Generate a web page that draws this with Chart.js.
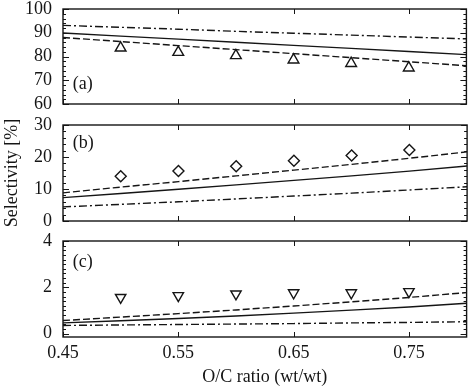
<!DOCTYPE html>
<html>
<head>
<meta charset="utf-8">
<script src="https://cdn.jsdelivr.net/npm/chart.js@4.4.0/dist/chart.umd.min.js"></script>
<style>
  html, body { margin: 0; padding: 0; background: #fff; }
  #wrap { position: relative; width: 474px; height: 390px; }
  #wrap canvas { position: absolute; left: 0; top: 0; }
</style>
</head>
<body>
<div id="wrap">
  <canvas id="chart-a" width="474" height="390"></canvas>
  <canvas id="chart-b" width="474" height="390"></canvas>
  <canvas id="chart-c" width="474" height="390"></canvas>
</div>
<script>
/* selectivity vs O/C ratio — three stacked panels */

// shared x
const X_LINE  = [0.45, 0.50, 0.55, 0.60, 0.65, 0.70, 0.75, 0.80];
const X_MEAS  = [0.50, 0.55, 0.60, 0.65, 0.70, 0.75];
const X_TICKS = [0.45, 0.55, 0.65, 0.75];

// panel (a)
const A_SOLID   = [89.9, 88.6, 87.3, 86.0, 84.7, 83.4, 82.1, 80.8];
const A_DASHED  = [88.0, 86.3, 84.6, 82.9, 81.2, 79.5, 77.8, 76.1];
const A_DASHDOT = [93.1, 92.3, 91.5, 90.6, 89.8, 89.0, 88.2, 87.4];
const A_MEAS    = [83.6, 81.8, 80.4, 78.6, 77.1, 75.2];
const A_TICKS   = [60, 70, 80, 90, 100];

// panel (b)
const B_SOLID   = [7.3, 8.6, 9.9, 11.3, 12.7, 14.1, 15.6, 17.2];
const B_DASHED  = [8.8, 10.6, 12.3, 14.1, 15.9, 17.7, 19.6, 21.6];
const B_DASHDOT = [4.4, 5.2, 6.0, 6.9, 7.8, 8.7, 9.7, 10.7];
const B_MEAS    = [14.0, 15.6, 17.1, 18.8, 20.5, 22.2];
const B_TICKS   = [0, 10, 20, 30];

// panel (c)
const C_SOLID   = [0.46, 0.55, 0.65, 0.76, 0.88, 1.01, 1.15, 1.31];
const C_DASHED  = [0.56, 0.71, 0.86, 1.02, 1.19, 1.37, 1.56, 1.77];
const C_DASHDOT = [0.35, 0.37, 0.39, 0.41, 0.43, 0.46, 0.48, 0.51];
const C_MEAS    = [1.56, 1.64, 1.71, 1.76, 1.76, 1.81];
const C_TICKS   = [0, 2, 4];

const INK  = '#151515';
const FONT = "'Liberation Serif', 'DejaVu Serif', serif";

const pts = (xs, ys) => xs.map((x, i) => ({x, y: ys[i]}));

function lineSet(xs, ys, dash) {
  return {
    data: pts(xs, ys),
    borderColor: INK,
    borderWidth: 1.4,
    borderDash: dash,
    pointRadius: 0,
    tension: 0,
    fill: false,
  };
}

function markerSet(xs, ys, style, radius, rotation) {
  return {
    data: pts(xs, ys),
    showLine: false,
    pointStyle: style,
    pointRadius: radius,
    pointRotation: rotation || 0,
    pointBorderColor: INK,
    pointBackgroundColor: 'rgba(0,0,0,0)',
    pointBorderWidth: 1.4,
  };
}

// frame, inward ticks and panel tag
const frameTicks = {
  id: 'frameTicks',
  afterDraw(chart, args, o) {
    const {ctx, chartArea: a, scales: {x, y}} = chart;
    ctx.save();
    ctx.strokeStyle = INK;
    ctx.lineWidth = 1;
    ctx.beginPath();
    X_TICKS.forEach(v => {
      const px = Math.round(x.getPixelForValue(v)) + 0.5;
      ctx.moveTo(px, a.top); ctx.lineTo(px, a.top + 5);
      ctx.moveTo(px, a.bottom); ctx.lineTo(px, a.bottom - 5);
    });
    const yTick = (v, len) => {
      const py = Math.round(y.getPixelForValue(v)) + 0.5;
      ctx.moveTo(a.left, py); ctx.lineTo(a.left + len, py);
      ctx.moveTo(a.right, py); ctx.lineTo(a.right - len, py);
    };
    for (let v = o.lo; v <= o.hi + 1e-9; v += o.minor) yTick(v, 3);
    o.major.forEach(v => yTick(v, 6));
    ctx.stroke();
    ctx.lineWidth = 1.4;
    ctx.strokeRect(a.left, a.top, a.right - a.left, a.bottom - a.top);
    ctx.fillStyle = INK;
    ctx.font = '18px ' + FONT;
    ctx.textAlign = 'left';
    ctx.textBaseline = 'middle';
    ctx.fillText(o.tag, x.getPixelForValue(o.tagAt[0]), y.getPixelForValue(o.tagAt[1]));
    ctx.restore();
  }
};

function makePanel(id, p) {
  const fixY = s => { s.width = 63; s.paddingTop = 0; s.paddingBottom = 0; };
  const fixX = s => { s.height = p.showX ? 53 : 0; s.paddingLeft = 0; s.paddingRight = 0; };
  return new Chart(document.getElementById(id), {
    type: 'line',
    data: {datasets: p.datasets},
    options: {
      responsive: false,
      animation: false,
      events: [],
      layout: {padding: {left: 0, right: 4, top: p.top, bottom: p.bottom}},
      plugins: {
        legend: {display: false},
        tooltip: {enabled: false},
        frameTicks: {tag: p.tag, tagAt: p.tagAt, major: p.ticks, minor: p.minor, lo: p.lo, hi: p.max},
      },
      scales: {
        x: {
          type: 'linear',
          min: 0.45, max: 0.8,
          display: p.showX,
          afterBuildTicks: s => { s.ticks = X_TICKS.map(v => ({value: v})); },
          afterFit: fixX,
          grid: {display: false, drawTicks: false},
          border: {display: false},
          ticks: {
            autoSkip: false, maxRotation: 0, padding: 7, color: INK,
            font: {family: FONT, size: 18, lineHeight: 1},
            callback: v => v.toFixed(2),
          },
          title: {
            display: true, text: 'O/C ratio (wt/wt)', color: INK,
            font: {family: FONT, size: 18}, padding: {top: 0, bottom: 2},
          },
        },
        y: {
          type: 'linear',
          min: p.min, max: p.max,
          afterBuildTicks: s => { s.ticks = p.ticks.map(v => ({value: v})); },
          afterFit: fixY,
          grid: {display: false, drawTicks: false},
          border: {display: false},
          ticks: {
            autoSkip: false, padding: 11, color: INK,
            font: {family: FONT, size: 18, lineHeight: 1},
            callback: v => String(v),
          },
          title: {
            display: !!p.yTitle, text: p.yTitle || '', color: INK,
            font: {family: FONT, size: 18}, padding: {top: 1, bottom: 0},
          },
        },
      },
    },
    plugins: [frameTicks],
  });
}

makePanel('chart-a', {
  top: 9, bottom: 286, showX: false,
  min: 60, max: 100, ticks: A_TICKS, minor: 2, lo: 60,
  tag: '(a)', tagAt: [0.4585, 68.2],
  datasets: [
    lineSet(X_LINE, A_DASHDOT, [8, 3, 2, 3]),
    lineSet(X_LINE, A_SOLID, []),
    lineSet(X_LINE, A_DASHED, [7, 3]),
    markerSet(X_MEAS, A_MEAS, 'triangle', 6.2),
  ],
});

makePanel('chart-b', {
  top: 125, bottom: 169, showX: false,
  min: 0, max: 30, ticks: B_TICKS, minor: 2, lo: 0,
  yTitle: 'Selectivity [%]',
  tag: '(b)', tagAt: [0.4585, 24.4],
  datasets: [
    lineSet(X_LINE, B_DASHDOT, [8, 3, 2, 3]),
    lineSet(X_LINE, B_SOLID, []),
    lineSet(X_LINE, B_DASHED, [7, 3]),
    markerSet(X_MEAS, B_MEAS, 'rectRot', 5.5),
  ],
});

makePanel('chart-c', {
  top: 241, bottom: 0, showX: true,
  min: -0.15, max: 4, ticks: C_TICKS, minor: 0.2, lo: 0,
  tag: '(c)', tagAt: [0.4585, 3.1],
  datasets: [
    lineSet(X_LINE, C_DASHDOT, [8, 3, 2, 3]),
    lineSet(X_LINE, C_SOLID, []),
    lineSet(X_LINE, C_DASHED, [7, 3]),
    markerSet(X_MEAS, C_MEAS, 'triangle', 6, 180),
  ],
});
</script>
</body>
</html>
